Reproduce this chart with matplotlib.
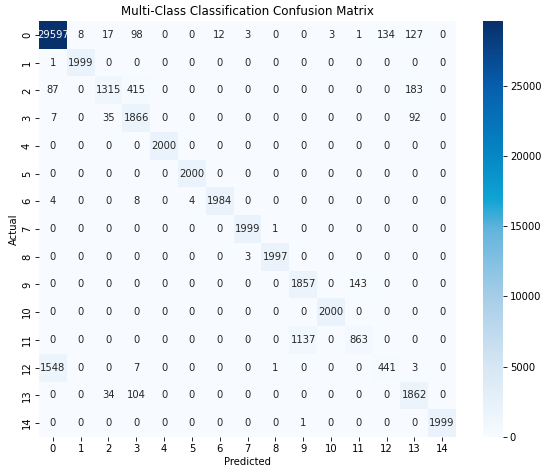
import numpy as np
import matplotlib
matplotlib.use("Agg")
import matplotlib.pyplot as plt
import seaborn as sns
from matplotlib.colors import LinearSegmentedColormap

classes = list(range(15))
row0 = [29597, 8, 17, 98, 0, 0, 12, 3, 0, 0, 3, 1, 134, 127, 0]
row1 = [1, 1999, 0, 0, 0, 0, 0, 0, 0, 0, 0, 0, 0, 0, 0]
row2 = [87, 0, 1315, 415, 0, 0, 0, 0, 0, 0, 0, 0, 0, 183, 0]
row3 = [7, 0, 35, 1866, 0, 0, 0, 0, 0, 0, 0, 0, 0, 92, 0]
row4 = [0, 0, 0, 0, 2000, 0, 0, 0, 0, 0, 0, 0, 0, 0, 0]
row5 = [0, 0, 0, 0, 0, 2000, 0, 0, 0, 0, 0, 0, 0, 0, 0]
row6 = [4, 0, 0, 8, 0, 4, 1984, 0, 0, 0, 0, 0, 0, 0, 0]
row7 = [0, 0, 0, 0, 0, 0, 0, 1999, 1, 0, 0, 0, 0, 0, 0]
row8 = [0, 0, 0, 0, 0, 0, 0, 3, 1997, 0, 0, 0, 0, 0, 0]
row9 = [0, 0, 0, 0, 0, 0, 0, 0, 0, 1857, 0, 143, 0, 0, 0]
row10 = [0, 0, 0, 0, 0, 0, 0, 0, 0, 0, 2000, 0, 0, 0, 0]
row11 = [0, 0, 0, 0, 0, 0, 0, 0, 0, 1137, 0, 863, 0, 0, 0]
row12 = [1548, 0, 0, 7, 0, 0, 0, 0, 1, 0, 0, 0, 441, 3, 0]
row13 = [0, 0, 34, 104, 0, 0, 0, 0, 0, 0, 0, 0, 0, 1862, 0]
row14 = [0, 0, 0, 0, 0, 0, 0, 0, 0, 1, 0, 0, 0, 0, 1999]

cm = np.array([row0, row1, row2, row3, row4, row5, row6, row7, row8, row9,
               row10, row11, row12, row13, row14])

cmap = LinearSegmentedColormap.from_list("blues_sat", [
    (0.00, "#f7fbff"),
    (0.17, "#d6e6f4"),
    (0.34, "#a5cde8"),
    (0.50, "#62b4dc"),
    (0.57, "#10a4d4"),
    (0.68, "#0586c4"),
    (0.84, "#075fae"),
    (1.00, "#08306b"),
])

fig = plt.figure(figsize=(5.5, 4.72), dpi=100)
ax = fig.add_axes([0.0709, 0.0742, 0.7582, 0.8813])
cax = fig.add_axes([0.878, 0.0742, 0.0364, 0.8813])

sns.heatmap(cm, annot=True, fmt="d", cmap=cmap, ax=ax, cbar_ax=cax,
            xticklabels=classes, yticklabels=classes,
            annot_kws={"fontsize": 7.2})

ax.set_title("Multi-Class Classification Confusion Matrix", fontsize=8.6, pad=4)
ax.set_xlabel("Predicted", fontsize=7.2, labelpad=2)
ax.set_ylabel("Actual", fontsize=7.2, labelpad=2)
ax.tick_params(axis="both", labelsize=7.2, length=3, width=0.6, pad=2)
plt.setp(ax.get_yticklabels(), rotation=90, va="center")
plt.setp(ax.get_xticklabels(), rotation=0)
cax.tick_params(labelsize=7.2, length=3, width=0.6, pad=2)
cax.set_yticks([0, 5000, 10000, 15000, 20000, 25000])

fig.savefig("out.png", dpi=100)
